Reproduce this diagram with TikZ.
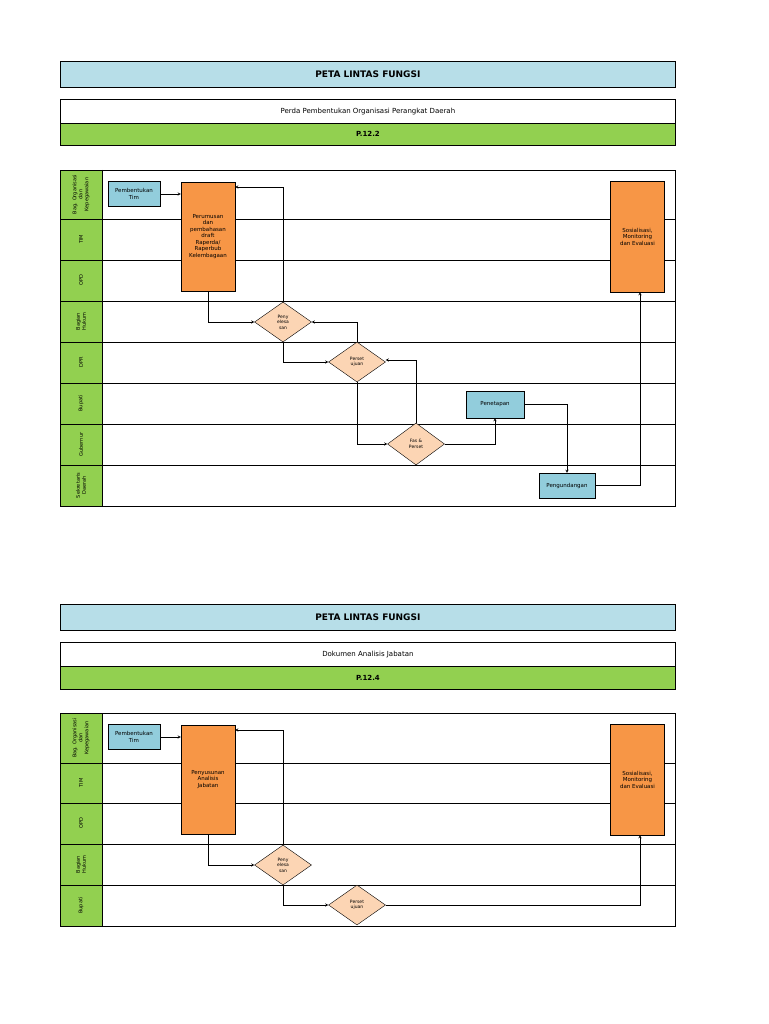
\documentclass[tikz,border=0pt]{standalone}
\usepackage{fontspec}
\setmainfont{DejaVu Sans}
\usetikzlibrary{shapes.geometric,positioning}
\definecolor{hdrblue}{RGB}{183,222,232}
\definecolor{lanegreen}{RGB}{146,208,80}
\definecolor{boxblue}{RGB}{146,205,220}
\definecolor{boxorange}{RGB}{247,150,70}
\definecolor{dpeach}{RGB}{252,213,180}
\begin{document}
\begin{tikzpicture}[x=1pt,y=-1pt,
        tbox/.style = {draw, fill=boxblue, minimum width=52pt, minimum height=25pt, inner sep=1pt, font=\fontsize{5.5}{6.5}\selectfont, align=center},
        obox/.style = {draw, fill=boxorange, minimum width=54pt, inner sep=1pt, font=\fontsize{5.5}{6.5}\selectfont, align=center},
        dec/.style = {draw, fill=dpeach, diamond, aspect=1.4, minimum width=57pt, minimum height=40pt, inner sep=0pt, font=\fontsize{4.5}{5.5}\selectfont, align=center},
        flow/.style = {->, >=stealth, thin},
        lane/.style = {font=\fontsize{5}{6}\selectfont, align=center, rotate=90}]
        \useasboundingbox (0,0) rectangle (768,1024);

        % ---- panel P.12.2
        \node[draw, thick, fill=hdrblue, minimum width=615pt, minimum height=26pt, anchor=north west, font=\fontsize{9}{10}\selectfont\bfseries] (ttl1) at (60,61) {PETA LINTAS FUNGSI};
        \node[draw, thick, minimum width=615pt, minimum height=24pt, anchor=north west, font=\fontsize{7}{8}\selectfont] (sub1) at (60,99) {Perda Pembentukan Organisasi Perangkat Daerah};
        \node[draw, thick, fill=lanegreen, minimum width=615pt, minimum height=22pt, anchor=north west, font=\fontsize{7}{8}\selectfont\bfseries] (kode1) at (60,123) {P.12.2};

        \fill[lanegreen] (60,170) rectangle (102,506);
        \foreach \y in {219,260,301,342,383,424,465} \draw (60,\y) -- (675,\y);
        \draw[thick] (60,170) rectangle (675,506);
        \draw[thick] (102,170) -- (102,506);
        \foreach \y/\t in {194.5/{Bag. Organisasi\\dan\\Kepegawaian},239.5/TIM,280.5/OPD,321.5/{Bagian\\Hukum},362.5/DPR,403.5/Bupati,444.5/Gubernur,485.5/{Sekretaris\\Daerah}}
            \node[lane] at (81,\y) {\t};

        \node[tbox] (tim1) at (134,194) {Pembentukan\\Tim};
        \node[obox, minimum height=109pt] (rumus) at (208,236.5) {Perumusan\\dan\\pembahasan\\draft\\Raperda/\\Raperbub\\Kelembagaan};
        \node[obox, minimum height=111pt] (sosial1) at (637.5,236.5) {Sosialisasi,\\Monitoring\\dan Evaluasi};
        \node[dec] (peny1) at (283,322) {Peny\\elesa\\san};
        \node[dec] (perset1) at (357,362) {Perset\\ujuan};
        \node[dec, minimum height=42pt] (fas) at (416,444) {Fas \&\\Perset};
        \node[tbox, minimum width=58pt, minimum height=27pt] (tetap) at (495,404.5) {Penetapan};
        \node[tbox, minimum width=56pt] (undang) at (567,485.5) {Pengundangan};

        \draw[flow] (tim1) -- (rumus.west |- tim1);
        \draw[flow] (peny1.north) |- ([yshift=7pt]rumus.east |- tim1);
        \draw[flow] (rumus.south) |- (peny1.west);
        \draw[flow] (perset1.north) |- (peny1.east);
        \draw[flow] (peny1.south) |- (perset1.west);
        \draw[flow] (fas.north) |- ([yshift=2pt]perset1.east);
        \draw[flow] (perset1.south) |- (fas.west);
        \draw[flow] (fas.east) -| (tetap.south);
        \draw[flow] (tetap.east) -| (undang.north);
        \draw[flow] (undang.east) -| ([xshift=2.5pt]sosial1.south);

        % ---- panel P.12.4
        \node[draw, thick, fill=hdrblue, minimum width=615pt, minimum height=26pt, anchor=north west, font=\fontsize{9}{10}\selectfont\bfseries] (ttl2) at (60,604) {PETA LINTAS FUNGSI};
        \node[draw, thick, minimum width=615pt, minimum height=24pt, anchor=north west, font=\fontsize{7}{8}\selectfont] (sub2) at (60,642) {Dokumen Analisis Jabatan};
        \node[draw, thick, fill=lanegreen, minimum width=615pt, minimum height=23pt, anchor=north west, font=\fontsize{7}{8}\selectfont\bfseries] (kode2) at (60,666) {P.12.4};

        \fill[lanegreen] (60,713) rectangle (102,926);
        \foreach \y in {763,803,844,885} \draw (60,\y) -- (675,\y);
        \draw[thick] (60,713) rectangle (675,926);
        \draw[thick] (102,713) -- (102,926);
        \foreach \y/\t in {738/{Bag. Organisasi\\dan\\Kepegawaian},783/TIM,823.5/OPD,864.5/{Bagian\\Hukum},905.5/Bupati}
            \node[lane] at (81,\y) {\t};

        \node[tbox] (tim2) at (134,737) {Pembentukan\\Tim};
        \node[obox, minimum height=109pt] (susun) at (208,779.5) {Penyusunan\\Analisis\\Jabatan};
        \node[obox, minimum height=111pt] (sosial2) at (637.5,779.5) {Sosialisasi,\\Monitoring\\dan Evaluasi};
        \node[dec] (peny2) at (283,865) {Peny\\elesa\\san};
        \node[dec] (perset2) at (357,905) {Perset\\ujuan};

        \draw[flow] (tim2) -- (susun.west |- tim2);
        \draw[flow] (peny2.north) |- ([yshift=7pt]susun.east |- tim2);
        \draw[flow] (susun.south) |- (peny2.west);
        \draw[flow] (peny2.south) |- (perset2.west);
        \draw[flow] (perset2.east) -| ([xshift=2.5pt]sosial2.south);
\end{tikzpicture}
\end{document}
